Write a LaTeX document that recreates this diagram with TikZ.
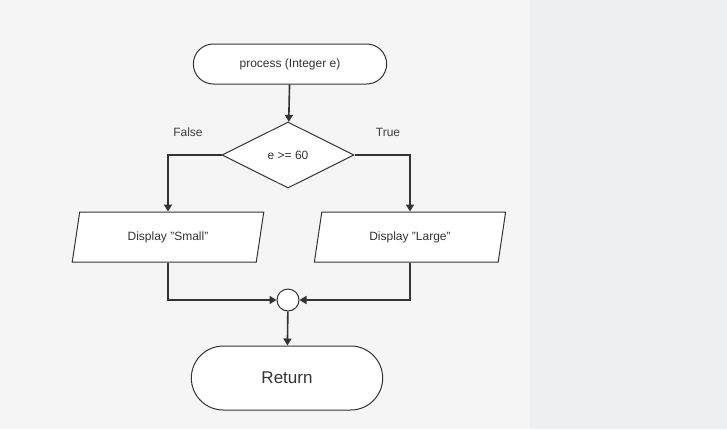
\documentclass[tikz,border=0pt]{standalone}
\usepackage{fontspec}
\setmainfont{Liberation Sans}
\usetikzlibrary{shapes.geometric,shapes.misc,arrows.meta}
\begin{document}
\begin{tikzpicture}[x=1pt,y=-1pt,
  box/.style={draw=black!80,line width=1pt,fill=white,text=black!80,font=\fontsize{12}{14}\selectfont},
  term/.style={box,rounded rectangle},
  para/.style={box,trapezium,trapezium left angle=73,trapezium right angle=107,trapezium stretches=true,minimum width=192pt,minimum height=50pt,inner sep=0pt},
  flow/.style={draw=black!80,line width=1.6pt},
  arr/.style={flow,-{Triangle[length=7pt,width=8pt]}},
  lbl/.style={text=black!75,font=\fontsize{12}{14}\selectfont}]
\useasboundingbox (0,0) rectangle (727,429);
\fill[black!4] (0,0) rectangle (727,429);
\fill[cyan!20!black!8] (530,0) rectangle (727,429);
\node[term,minimum width=200pt,minimum height=40pt] (start) at (290,64) {process (Integer e)};
\node[box,diamond,aspect=2,minimum width=132pt,minimum height=66pt,inner sep=0pt] (dec) at (288,155) {e >= 60};
\node[lbl] at (188,132) {False};
\node[lbl] at (388,132) {True};
\node[para] (small) at (168,237) {Display "Small"};
\node[para] (large) at (410,237) {Display "Large"};
\node[circle,draw=black!80,line width=1pt,fill=white,minimum size=22pt,inner sep=0pt] (join) at (288,300) {};
\node[term,minimum width=198pt,minimum height=64pt,font=\fontsize{17}{19}\selectfont] (ret) at (287,378) {Return};
\draw[arr] (start) -- (dec);
\draw[arr] (dec.west) -| (small.north);
\draw[arr] (dec.east) -| (large.north);
\draw[arr] (small.south) |- (join.west);
\draw[arr] (large.south) |- (join.east);
\draw[arr] (join) -- (ret);
\end{tikzpicture}
\end{document}
